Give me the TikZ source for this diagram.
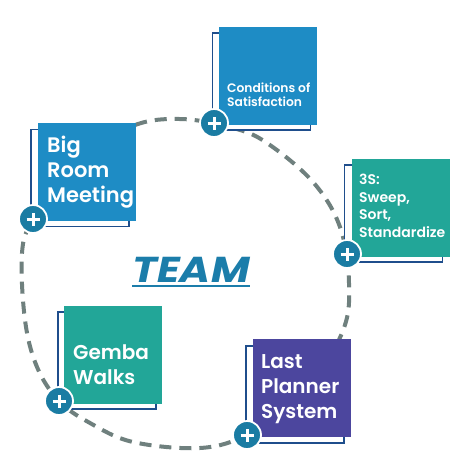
\documentclass[tikz,border=0pt]{standalone}
\usepackage{fontspec}
\setmainfont{Poppins}
\newfontfamily\lblfont{Poppins SemiBold}
\definecolor{boxblue}{RGB}{30,140,197}
\definecolor{boxteal}{RGB}{34,166,152}
\definecolor{boxpurple}{RGB}{76,70,158}
\definecolor{plusblue}{RGB}{26,124,163}
\definecolor{navy}{RGB}{31,78,140}
\definecolor{dashgray}{RGB}{111,128,126}
\definecolor{teamblue}{RGB}{27,125,170}
\begin{document}
\begin{tikzpicture}[x=1pt,y=-1pt,
  mainbox/.style={minimum width=98pt,minimum height=98pt,inner sep=0,draw=none},
  backbox/.style={minimum width=98pt,minimum height=97pt,inner sep=0,fill=white,draw=navy,line width=1.5pt},
  plusc/.style={circle,minimum size=28pt,inner sep=0,fill=plusblue,draw=white,line width=1.8pt,
    path picture={\draw[white,line width=3pt]
      ([xshift=-6.5pt]path picture bounding box.center) -- ([xshift=6.5pt]path picture bounding box.center)
      ([yshift=-6.5pt]path picture bounding box.center) -- ([yshift=6.5pt]path picture bounding box.center);}},
  lbl/.style={text=white,anchor=base west,align=left,inner sep=0},
  ring/.style={dashgray,line width=4pt,dash pattern=on 12pt off 8pt}]
\useasboundingbox (0,0) rectangle (474,475);
% dashed ring
\draw[ring] plot[smooth cycle,tension=0.6] coordinates {
  (180,119) (233,128) (267,143) (313,182) (340,227) (349,283) (342,333)
  (300,401) (247,435) (200,448) (133,442) (90,423) (59,401) (37,367)
  (25,320) (22,253) (33,219) (68,166) (130,127)};
% back pages
\node[backbox] (cosb) at (261.5,81.5) {};
\node[backbox] (bigb) at (80,178) {};
\node[backbox] (tsb) at (393.5,213.5) {};
\node[backbox] (gemb) at (107,360.5) {};
\node[backbox] (lpsb) at (295,394.5) {};
% main boxes
\node[mainbox,fill=boxblue] (cos) at (268,75.5) {};
\node[mainbox,fill=boxblue] (big) at (87,172) {};
\node[mainbox,fill=boxteal] (ts) at (401,208) {};
\node[mainbox,fill=boxteal] (gem) at (113,354.5) {};
\node[mainbox,fill=boxpurple] (lps) at (301.5,388) {};
% labels (anchor = baseline of last line)
\node[lbl,font=\lblfont\fontsize{12.3}{14}\selectfont] (cost) at (227,106) {Conditions of\\Satisfaction};
\node[lbl,font=\lblfont\fontsize{21}{25}\selectfont] (bigt) at (47,202) {Big\\Room\\Meeting};
\node[lbl,font=\lblfont\fontsize{14}{17.4}\selectfont] (tst) at (359,237) {3S:\\Sweep,\\Sort,\\Standardize};
\node[lbl,font=\lblfont\fontsize{20}{25}\selectfont] (gemt) at (73,384) {Gemba\\Walks};
\node[lbl,font=\lblfont\fontsize{20}{25}\selectfont] (lpst) at (261,418) {Last\\Planner\\System};
% plus circles
\node[plusc] (pcos) at (214,123) {};
\node[plusc] (pbig) at (33,219) {};
\node[plusc] (pts) at (347,254) {};
\node[plusc] (pgem) at (59,401) {};
\node[plusc] (plps) at (247,435) {};
% TEAM
\node[inner sep=0,anchor=base,text=teamblue,font=\fontsize{36}{36}\selectfont\bfseries\itshape] (team) at (191,282) {\scalebox{1.17}[1]{TEAM}};
\draw[teamblue,line width=2pt] ([yshift=-4pt]team.base west) -- ([yshift=-4pt]team.base east);
\end{tikzpicture}
\end{document}
